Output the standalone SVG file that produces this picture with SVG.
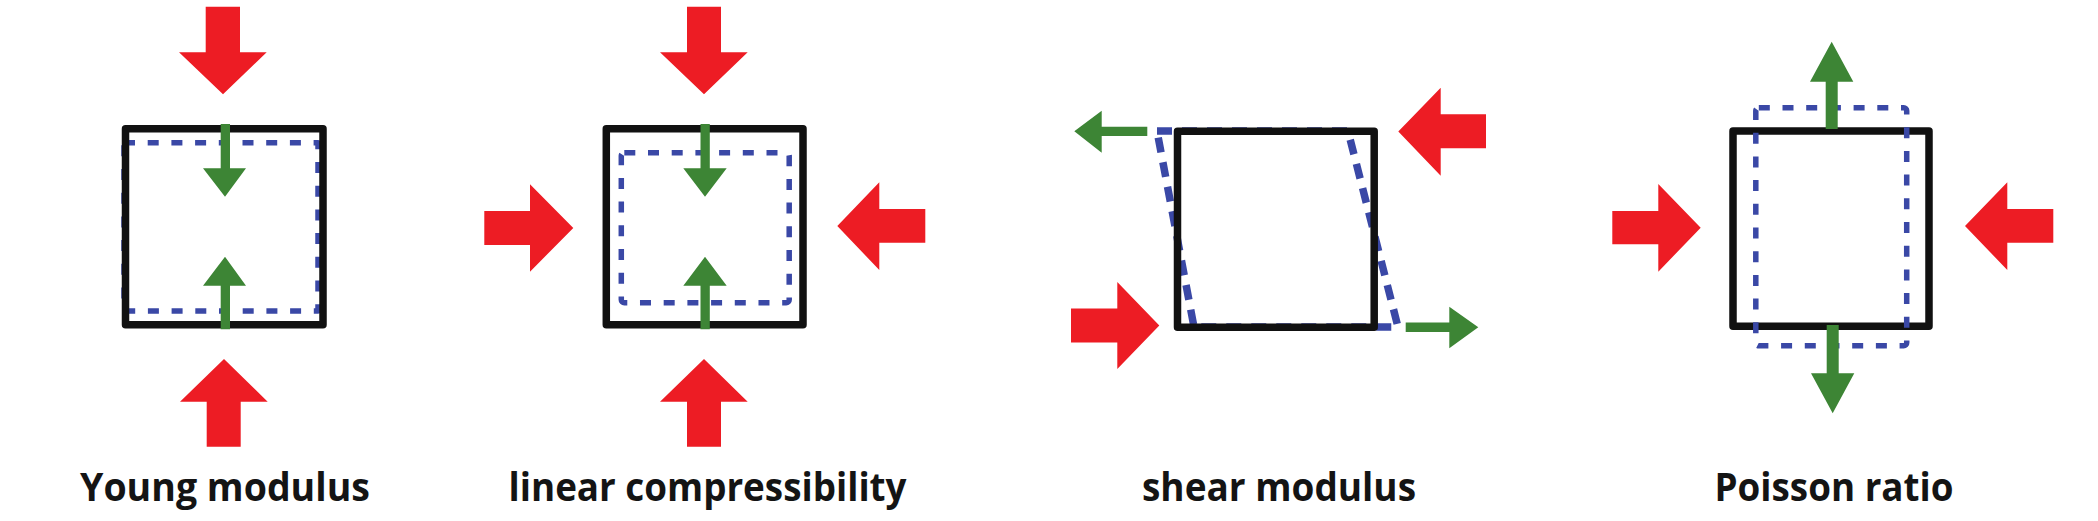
<svg xmlns="http://www.w3.org/2000/svg" width="2098" height="521" viewBox="0 0 2098 521">
<style>
.red{fill:#ED1C24}
.grn{fill:#3D8535}
.box{fill:none;stroke:#111;stroke-width:7.5;stroke-linejoin:round}
.dash{fill:none;stroke:#3A48A6;stroke-width:5.5;stroke-dasharray:11 12.7;stroke-linejoin:round}
.dash2{fill:none;stroke:#3A48A6;stroke-width:7.5;stroke-dasharray:15 10;stroke-linejoin:round}
.lbl{font-family:"Open Sans","Liberation Sans",sans-serif;font-weight:700;font-size:40px;fill:#141414;text-anchor:middle}
</style>
<rect width="2098" height="521" fill="#fff"/>

<g id="young">
<rect class="dash" x="124" y="142.7" width="194" height="168.3"/>
<rect class="box" x="125.5" y="128.7" width="197.5" height="196"/>
<polygon class="red" points="205.7,6.7 240,6.7 240,52.3 266.7,52.3 223,94.3 179,52.3 205.7,52.3"/>
<polygon class="red" points="206.7,446.7 206.7,401.7 180,401.7 224,359 267.7,401.7 240.7,401.7 240.7,446.7"/>
<polygon class="grn" points="220.7,124 230,124 230,168.3 246,168.3 225,196.7 203,168.3 220.7,168.3"/>
<polygon class="grn" points="220.7,329.3 230,329.3 230,285.7 246,285.7 225,256.7 203,285.7 220.7,285.7"/>
<text class="lbl" x="225" y="501" textLength="290" lengthAdjust="spacingAndGlyphs">Young modulus</text>
</g>

<g id="linear">
<rect class="dash" x="621.3" y="152.8" width="167.9" height="150" rx="3"/>
<rect class="box" x="606.3" y="128.7" width="196.7" height="196"/>
<polygon class="red" points="687,6.7 721,6.7 721,52.3 747.7,52.3 704,94.3 660,52.3 687,52.3"/>
<polygon class="red" points="687,446.7 687,401.7 660,401.7 704,359 747.7,401.7 721,401.7 721,446.7"/>
<polygon class="red" points="484.3,211 530,211 530,184.3 573.3,228 530,271.7 530,245 484.3,245"/>
<polygon class="red" points="925.3,209 879.3,209 879.3,182.3 837.3,226 879.3,270 879.3,242.7 925.3,242.7"/>
<polygon class="grn" points="700.5,124 709.8,124 709.8,168.3 726.7,168.3 705,196.7 683.3,168.3 700.5,168.3"/>
<polygon class="grn" points="700.5,329.3 709.8,329.3 709.8,285.7 726.7,285.7 705,256.7 683.3,285.7 700.5,285.7"/>
<text class="lbl" x="707.5" y="501" textLength="398" lengthAdjust="spacingAndGlyphs">linear compressibility</text>
</g>

<g id="shear">
<polygon class="dash2" points="1157,131 1348,131 1398,327 1194,327"/>
<rect class="box" x="1177.5" y="131.2" width="196.7" height="196"/>
<polygon class="red" points="1486,114.3 1440.7,114.3 1440.7,87.7 1398.3,131.5 1440.7,175.7 1440.7,148.3 1486,148.3"/>
<polygon class="red" points="1071,308.5 1117.3,308.5 1117.3,282 1159.3,325.5 1117.3,369 1117.3,342.5 1071,342.5"/>
<polygon class="grn" points="1147.3,126.7 1147.3,136 1101.7,136 1101.7,152.7 1074.3,131.3 1101.7,110.7 1101.7,126.7"/>
<polygon class="grn" points="1405.7,322.6 1449.3,322.6 1449.3,306.7 1478.3,327.3 1449.3,348.3 1449.3,332 1405.7,332"/>
<text class="lbl" x="1279" y="501" textLength="274" lengthAdjust="spacingAndGlyphs">shear modulus</text>
</g>

<g id="poisson">
<rect class="box" x="1733" y="131" width="196" height="195.3"/>
<rect class="dash" x="1755.8" y="107.8" width="150.9" height="238" rx="3"/>
<polygon class="red" points="1612.3,211 1658.3,211 1658.3,184 1700.7,227.7 1658.3,271.7 1658.3,244.3 1612.3,244.3"/>
<polygon class="red" points="2053.3,209 2007.3,209 2007.3,182.3 1965,226 2007.3,270 2007.3,242.7 2053.3,242.7"/>
<polygon class="grn" points="1825.7,129 1825.7,81.7 1810,81.7 1831.7,41.7 1853.3,81.7 1837.7,81.7 1837.7,129"/>
<polygon class="grn" points="1826.7,325 1826.7,373.3 1811,373.3 1832.7,413.3 1854.3,373.3 1838.7,373.3 1838.7,325"/>
<text class="lbl" x="1834" y="501" textLength="239" lengthAdjust="spacingAndGlyphs">Poisson ratio</text>
</g>

<g id="connectors"></g>
</svg>
